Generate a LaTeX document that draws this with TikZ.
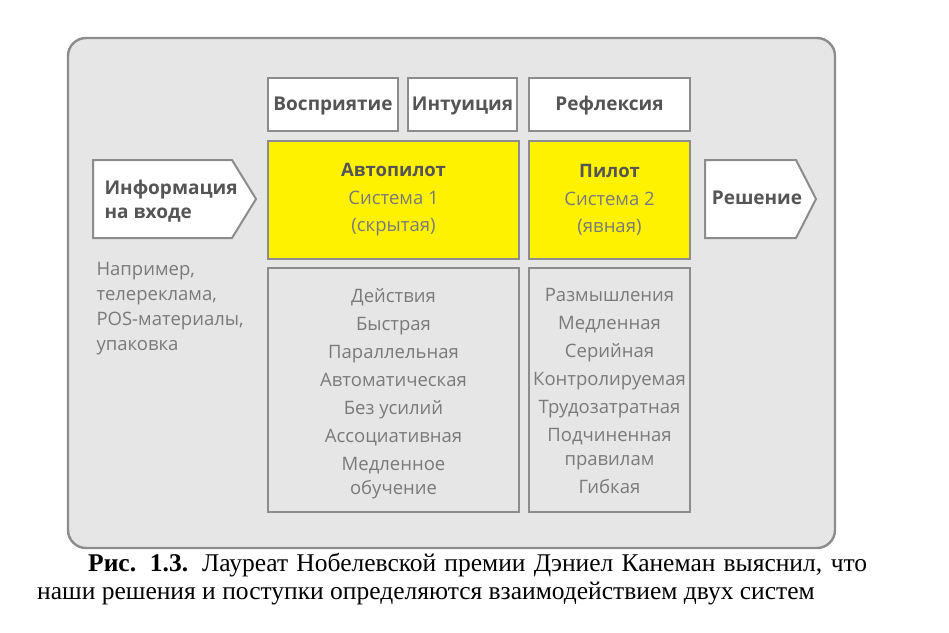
\documentclass[tikz,border=0pt]{standalone}
\usepackage{fontspec}
\setmainfont{Open Sans}
\newfontfamily\capfont{Liberation Serif}
\definecolor{bg}{HTML}{E6E6E6}
\definecolor{frame}{HTML}{8C8C8C}
\definecolor{txt}{HTML}{7A7A7A}
\definecolor{dark}{HTML}{555555}
\definecolor{yel}{HTML}{FFF200}
\begin{document}
\begin{tikzpicture}[x=1pt,y=-1pt,
  wbox/.style={draw=frame,line width=2pt,fill=white,inner sep=0},
  ybox/.style={draw=frame,line width=2pt,fill=yel,inner sep=0},
  gbox/.style={draw=frame,line width=2pt,fill=bg,inner sep=0},
  lbl/.style={text=dark,font=\fontsize{19}{24}\selectfont\bfseries},
  plain/.style={text=txt,font=\fontsize{18.5}{28}\selectfont,align=center}]
\useasboundingbox (0,0) rectangle (949,632);
\draw[draw=frame,line width=2.4pt,fill=bg,rounded corners=18pt] (68,38) rectangle (835,548);
% top boxes
\draw[wbox] (268,78) rectangle (398,131);
\node[lbl] (vos) at (333,105.5) {Восприятие};
\draw[wbox] (408,78) rectangle (517,131);
\node[lbl] (int) at (462.5,105.5) {Интуиция};
\draw[wbox] (529,78) rectangle (690,131);
\node[lbl] (ref) at (609.5,105.5) {Рефлексия};
% yellow
\draw[ybox] (268,141) rectangle (519,259);
\node[align=center,font=\fontsize{18.5}{27.5}\selectfont,text=dark] (s1) at (393.5,200)
  {\textbf{Автопилот}\\ \color{txt}Система 1\\ \color{txt}(скрытая)};
\draw[ybox] (529,141) rectangle (690,259);
\node[align=center,font=\fontsize{18.5}{27.5}\selectfont,text=dark] (s2) at (609.5,200)
  {\textbf{Пилот}\\ \color{txt}Система 2\\ \color{txt}(явная)};
% arrows
\draw[wbox] (93,160) -- (232,160) -- (256,199) -- (232,238) -- (93,238) -- cycle;
\node[lbl,align=left,anchor=west] (inf) at (101,201) {Информация\\на входе};
\draw[wbox] (705,160) -- (796,160) -- (816,199) -- (796,238) -- (705,238) -- cycle;
\node[lbl] (res) at (757,198) {Решение};
\node[plain,align=left,anchor=west,font=\fontsize{18.5}{25}\selectfont] (ex) at (93,309)
  {Например,\\телереклама,\\POS-материалы,\\упаковка};
% bottom boxes
\draw[gbox] (268,268) rectangle (519,512);
\node[plain,anchor=north] (l1) at (393.5,285) {Действия\\Быстрая\\Параллельная\\Автоматическая\\Без усилий\\Ассоциативная\\Медленное\\[-4pt]обучение};
\draw[gbox] (529,268) rectangle (690,512);
\node[plain,anchor=north] (l2) at (609.5,285) {Размышления\\Медленная\\Серийная\\Контролируемая\\Трудозатратная\\Подчиненная\\[-4pt]правилам\\Гибкая};
% caption
\node[font=\capfont\fontsize{25.5}{28}\selectfont,text width=830pt,align=justify,anchor=west,inner sep=0] (cap) at (37,579)
  {\hspace*{51pt}\textbf{Рис. 1.3.} Лауреат Нобелевской премии Дэниел Канеман выяснил, что наши решения и поступки определяются взаимодействием двух систем};
\end{tikzpicture}
\end{document}
